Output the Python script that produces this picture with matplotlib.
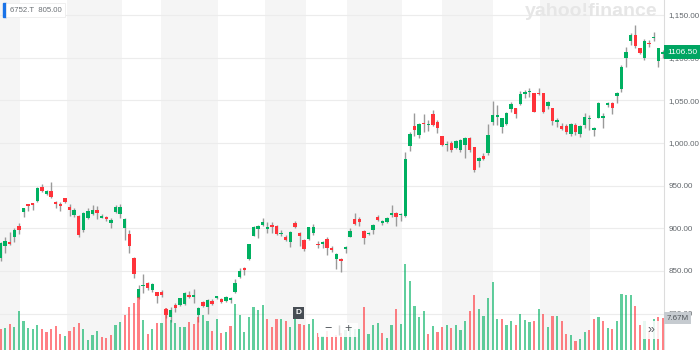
import matplotlib
matplotlib.use("Agg")
import matplotlib.pyplot as plt
from matplotlib.ticker import FuncFormatter

plt.rcParams["font.family"] = ["Liberation Sans", "DejaVu Sans"]

ticker = "6752.T"
legend_price = 805.00
last_price = 1106.50
last_volume = 7.67  # millions

opens = [
    864.8, 879.7, 884.0, 890.2, 903.0, 919.5, 928.5, 929.7, 932.4, 948.4,
    940.2, 944.1, 930.5, 928.0, 935.2, 925.0, 915.6, 914.8, 898.0, 911.7,
    917.2, 921.5, 912.5, 913.7, 905.9, 919.5, 916.4, 900.8, 893.0, 864.8,
    818.0, 832.8, 835.6, 827.7, 825.0, 825.8, 806.0, 796.5, 810.2, 810.2,
    811.0, 821.9, 820.0, 798.4, 813.7, 807.5, 815.2, 818.0, 817.2, 814.9,
    816.0, 825.0, 843.2, 853.0, 863.6, 891.0, 898.9, 904.0, 899.6, 904.0,
    902.8, 893.4, 890.2, 884.4, 906.7, 894.2, 886.3, 887.1, 894.9, 881.6,
    881.2, 887.1, 877.3, 864.4, 864.0, 875.3, 890.2, 910.6, 911.0, 896.9,
    893.0, 898.0, 913.4, 906.7, 907.5, 915.7, 918.5, 915.3, 914.5, 996.1,
    1020.4, 1009.8, 1023.1, 1020.8, 1034.5, 1024.3, 1007.8, 997.6, 999.6, 993.8,
    991.8, 997.7, 1006.3, 995.0, 979.3, 984.8, 987.9, 1025.0, 1030.9, 1019.1,
    1021.9, 1039.8, 1040.6, 1045.3, 1057.0, 1059.4, 1058.2, 1059.0, 1058.2, 1043.8,
    1040.6, 1025.0, 1019.9, 1020.3, 1010.2, 1021.1, 1010.2, 1021.1, 1028.1, 1015.2,
    1029.7, 1029.7, 1044.5, 1046.5, 1055.1, 1063.3, 1100.0, 1119.5, 1126.6, 1110.9,
    1099.2, 1117.6, 1123.4, 1096.1, 1104.0,
]
highs = [
    884.0, 890.0, 895.3, 900.0, 905.9, 924.2, 928.5, 929.7, 948.8, 951.5,
    945.3, 954.7, 932.4, 930.5, 936.0, 928.1, 924.2, 915.6, 919.5, 923.4,
    927.3, 926.2, 916.4, 914.8, 911.7, 927.3, 928.1, 912.5, 898.0, 866.8,
    833.6, 846.1, 837.5, 835.6, 825.8, 827.7, 807.0, 808.2, 812.1, 818.8,
    825.0, 826.6, 828.5, 808.2, 814.5, 817.5, 817.5, 821.1, 818.6, 820.3,
    819.0, 840.6, 853.0, 855.0, 882.0, 902.7, 903.7, 911.8, 907.8, 906.9,
    904.0, 898.2, 892.2, 896.9, 909.0, 896.1, 887.1, 902.0, 905.1, 885.1,
    885.1, 890.2, 879.2, 870.7, 864.8, 879.2, 900.8, 917.6, 913.0, 898.0,
    896.1, 905.1, 916.1, 909.8, 913.8, 927.5, 919.6, 917.6, 989.0, 1012.5,
    1035.3, 1023.5, 1034.5, 1027.4, 1038.4, 1027.4, 1008.6, 1002.0, 1002.3, 1003.5,
    1004.7, 1007.4, 1007.4, 995.7, 984.0, 988.0, 1021.9, 1049.2, 1044.5, 1029.7,
    1036.7, 1047.7, 1041.4, 1060.9, 1062.1, 1064.8, 1059.0, 1064.0, 1059.0, 1049.2,
    1041.4, 1028.9, 1023.1, 1021.9, 1023.1, 1023.1, 1021.1, 1034.8, 1032.8, 1019.1,
    1047.7, 1034.8, 1048.4, 1047.7, 1059.4, 1091.4, 1112.9, 1128.5, 1138.3, 1111.7,
    1121.9, 1120.7, 1130.5, 1111.7, 1109.0,
]
lows = [
    862.0, 870.7, 881.0, 884.4, 893.0, 913.7, 920.7, 921.0, 931.3, 942.2,
    939.0, 935.9, 923.4, 920.3, 929.3, 914.8, 913.7, 890.2, 895.3, 910.9,
    915.6, 910.5, 911.7, 909.0, 900.8, 918.4, 912.5, 886.3, 870.7, 841.4,
    817.2, 823.8, 827.7, 825.8, 812.1, 820.0, 795.0, 790.6, 802.3, 809.4,
    810.2, 817.9, 812.9, 790.6, 807.5, 800.0, 810.0, 817.2, 812.9, 813.7,
    813.0, 824.6, 842.0, 845.0, 863.0, 890.6, 888.3, 902.7, 894.0, 894.9,
    892.2, 891.0, 885.5, 878.2, 900.0, 879.8, 873.8, 886.3, 892.2, 877.2,
    876.5, 868.6, 872.6, 852.0, 849.2, 870.7, 889.8, 904.0, 902.7, 881.6,
    892.2, 893.0, 908.6, 904.0, 906.7, 913.8, 903.0, 908.6, 913.8, 990.2,
    1007.8, 1005.9, 1012.5, 1013.7, 1019.6, 1011.8, 996.1, 990.2, 989.8, 993.0,
    989.8, 982.0, 989.8, 965.6, 972.3, 980.1, 986.0, 1021.1, 1021.1, 1011.3,
    1021.1, 1036.7, 1029.7, 1044.5, 1052.3, 1054.3, 1035.9, 1056.2, 1034.8, 1040.0,
    1021.1, 1019.1, 1015.2, 1010.2, 1008.6, 1009.4, 1007.4, 1017.2, 1015.2, 1008.6,
    1028.9, 1017.2, 1042.6, 1033.6, 1046.5, 1060.2, 1089.5, 1114.8, 1111.7, 1104.3,
    1097.3, 1112.9, 1119.5, 1089.5, 1100.0,
]
closes = [
    882.4, 885.2, 882.0, 898.0, 898.0, 924.2, 926.6, 927.7, 947.7, 943.8,
    943.8, 936.7, 928.1, 925.8, 930.5, 921.9, 921.5, 892.2, 918.4, 920.3,
    921.9, 917.6, 914.8, 911.0, 910.1, 925.4, 925.4, 911.3, 879.7, 846.1,
    828.9, 834.0, 829.7, 834.8, 821.1, 821.9, 798.0, 804.3, 807.1, 818.0,
    823.8, 819.9, 821.9, 807.1, 808.6, 816.0, 811.7, 820.3, 813.7, 819.5,
    818.0, 836.0, 850.3, 851.0, 881.6, 902.0, 902.8, 907.0, 901.6, 901.2,
    893.4, 895.0, 886.3, 896.1, 902.0, 891.4, 875.3, 901.2, 902.0, 880.4,
    884.4, 876.5, 874.6, 869.9, 862.0, 878.5, 896.9, 905.1, 907.1, 888.3,
    895.0, 904.0, 909.8, 908.3, 912.6, 918.5, 913.0, 916.9, 981.2, 1011.0,
    1014.9, 1022.0, 1022.0, 1021.2, 1021.2, 1017.2, 998.0, 999.2, 991.8, 1002.3,
    1003.5, 1006.3, 991.8, 968.4, 982.0, 981.3, 1009.4, 1032.8, 1032.8, 1028.9,
    1035.5, 1045.3, 1033.6, 1057.4, 1059.4, 1060.9, 1036.7, 1057.0, 1036.7, 1047.7,
    1025.8, 1027.0, 1016.4, 1012.5, 1021.9, 1012.5, 1020.3, 1030.9, 1029.7, 1018.0,
    1046.5, 1031.6, 1046.5, 1040.6, 1058.2, 1089.5, 1107.0, 1126.6, 1114.0, 1105.1,
    1119.5, 1115.6, 1124.2, 1110.9, 1106.5,
]
# volume in millions of shares, and whether the bar is drawn as an up day
volumes = [
    5.0, 5.25, 6.3, 5.5, 9.4, 7.1, 5.25, 5.1, 6.05, 5.1,
    4.36, 5.0, 5.7, 3.8, 3.4, 4.7, 5.5, 6.6, 5.15, 2.4,
    3.55, 4.6, 3.1, 2.9, 3.55, 6.05, 6.85, 8.5, 10.5, 11.3,
    12.9, 7.3, 3.9, 5.2, 6.5, 6.6, 10.1, 7.3, 6.5, 5.5,
    5.65, 6.85, 6.3, 8.0, 8.5, 7.1, 4.7, 7.4, 4.0, 4.4,
    5.8, 11.1, 8.4, 4.4, 7.9, 10.3, 9.7, 10.8, 7.4, 5.5,
    7.4, 7.6, 6.9, 5.5, 8.2, 6.3, 6.0, 6.3, 7.4, 4.0,
    3.5, 4.6, 3.2, 3.6, 4.2, 4.8, 5.3, 5.0, 5.0, 10.3,
    3.9, 6.05, 6.6, 4.0, 2.8, 6.0, 9.9, 6.3, 20.7, 16.7,
    10.7, 8.1, 9.5, 3.8, 5.8, 4.4, 5.65, 6.1, 5.3, 6.0,
    4.8, 7.0, 9.4, 13.2, 9.9, 8.2, 12.7, 16.5, 7.4, 7.4,
    6.05, 7.1, 6.1, 8.6, 7.3, 6.7, 7.1, 10.0, 8.7, 5.6,
    8.2, 8.3, 7.1, 3.8, 3.6, 2.2, 2.6, 4.4, 4.8, 7.4,
    8.1, 7.1, 5.4, 5.1, 6.9, 13.6, 13.2, 13.3, 10.6, 6.1,
    7.0, 4.5, 7.4, 8.1, 7.67,
]
volume_up = [
    0, 1, 0, 1, 1, 1, 1, 1, 1, 0,
    0, 0, 0, 0, 1, 0, 0, 0, 1, 1,
    1, 1, 0, 0, 0, 1, 1, 0, 0, 0,
    0, 1, 0, 1, 0, 1, 0, 1, 1, 1,
    1, 0, 0, 0, 1, 1, 0, 1, 0, 1,
    0, 1, 1, 1, 1, 1, 1, 1, 0, 0,
    0, 1, 0, 1, 1, 0, 0, 1, 1, 0,
    1, 0, 0, 0, 0, 1, 1, 1, 1, 0,
    1, 1, 1, 0, 1, 1, 0, 1, 1, 1,
    1, 1, 1, 0, 1, 0, 0, 1, 0, 1,
    1, 1, 0, 0, 1, 1, 1, 1, 1, 0,
    1, 1, 0, 1, 1, 1, 0, 1, 0, 1,
    0, 1, 0, 0, 1, 0, 1, 1, 0, 0,
    1, 0, 1, 0, 1, 1, 1, 1, 0, 0,
    1, 0, 1, 0, 0,
]
# alternating background periods, in candle units
shaded_periods = [(-1.0, 4.2), (14.5, 26.4), (34.9, 47.3), (57.5, 66.4),
                  (75.3, 87.3), (96.0, 107.1), (117.3, 128.2)]
price_ticks = [800, 850, 900, 950, 1000, 1050, 1100, 1150]

UP = "#00b061"
DOWN = "#ff333a"
WICK = "#9a9a9a"
LABEL = "#62676c"

fig = plt.figure(figsize=(7, 3.5), dpi=100)
ax = fig.add_axes([0, 0, 664 / 700, 1])
ax.set_xlim(-0.11, 144.24)
ax.set_ylim(757.4, 1167.6)

for start, end in shaded_periods:
    ax.axvspan(start, end, color="#f5f5f5", lw=0, zorder=0)
for t in price_ticks:
    ax.axhline(t, color="#ececec", lw=0.8, zorder=1)

idx = list(range(len(closes)))
ax.vlines(idx, lows, highs, color=WICK, lw=1.0, zorder=3)
bottoms = [min(o, c) for o, c in zip(opens, closes)]
heights = [max(abs(c - o), 1.0) for o, c in zip(opens, closes)]
colors = [UP if c >= o else DOWN for o, c in zip(opens, closes)]
ax.bar(idx, heights, bottom=bottoms, width=0.7, color=colors, lw=0, zorder=4)

# volume bars on their own scale along the bottom
vol = ax.twinx()
vol.set_ylim(0, 84.7)
vol.set_yticks([])
for side in vol.spines:
    vol.spines[side].set_visible(False)
vcolors = [UP if u else DOWN for u in volume_up]
vol.bar(idx, volumes, width=0.45, color=vcolors, alpha=0.62, lw=0, zorder=2)

# price scale on the right (twinx resets the original axis to the left)
ax.yaxis.tick_right()
ax.set_yticks(price_ticks)
ax.yaxis.set_major_formatter(FuncFormatter(lambda v, _: f"{v:,.2f}"))
ax.tick_params(axis="y", length=0, pad=3, labelsize=5.8, labelcolor=LABEL)
ax.set_xticks([])
for side in ["top", "left", "bottom"]:
    ax.spines[side].set_visible(False)
ax.spines["right"].set_color("#dcdcdc")
ax.spines["right"].set_linewidth(0.8)

# last price and last volume tags on the axis
ax.annotate(f"{last_price:.2f}", xy=(1.0, last_price), xycoords=ax.get_yaxis_transform(),
            xytext=(2.3, 0), textcoords="offset points", ha="left", va="center",
            fontsize=6, color="white", annotation_clip=False, zorder=10,
            bbox=dict(boxstyle="square,pad=0.42", fc="#00a562", ec="none"))
vol.annotate(f"{last_volume:.2f}M", xy=(1.0, last_volume), xycoords=vol.get_yaxis_transform(),
             xytext=(1.6, 0), textcoords="offset points", ha="left", va="center",
             fontsize=5.8, color="#50555a", annotation_clip=False, zorder=10,
             bbox=dict(boxstyle="square,pad=0.3", fc="#c6cbd0", ec="none"))

# watermark and legend chip
fig.text(591 / 700, 1 - 12 / 350, "yahoo!finance", ha="center", va="center",
         fontsize=14, fontweight="bold", color="#e6e6e6")
fig.text(9.5 / 700, 1 - 10 / 350, f"{ticker}  {legend_price:.2f}", ha="left", va="center",
         fontsize=5.6, color="#6b7075",
         bbox=dict(boxstyle="square,pad=0.45", fc="white", ec="#ededed", lw=0.6))
fig.patches.append(plt.Rectangle((3 / 700, 1 - 17 / 350), 3 / 700, 14 / 350,
                                 transform=fig.transFigure, color="#1a73e8"))

# interval badge and zoom / scroll controls
fig.text(298.5 / 700, 1 - 313 / 350, "D", ha="center", va="center", fontsize=6,
         color="white", fontweight="bold",
         bbox=dict(boxstyle="square,pad=0.3", fc="#474d54", ec="none"))
fig.patches.append(plt.Rectangle((318 / 700, 1 - 337 / 350), 40 / 700, 14 / 350,
                                 transform=fig.transFigure, fc="white", ec="none", alpha=0.85))
fig.text(328 / 700, 1 - 329 / 350, "\u2212", ha="center", va="center", fontsize=9, color="#555a5f")
fig.text(348 / 700, 1 - 329 / 350, "+", ha="center", va="center", fontsize=9, color="#555a5f")
fig.patches.append(plt.Rectangle((338.5 / 700, 1 - 335 / 350), 0.8 / 700, 10 / 350,
                                 transform=fig.transFigure, color="#d5d5d5"))
fig.patches.append(plt.Rectangle((642 / 700, 1 - 339 / 350), 18 / 700, 18 / 350,
                                 transform=fig.transFigure, fc="white", ec="none", alpha=0.85))
fig.text(651 / 700, 1 - 330 / 350, "\u00bb", ha="center", va="center", fontsize=9, color="#555a5f")

fig.savefig("out.png", dpi=100)
